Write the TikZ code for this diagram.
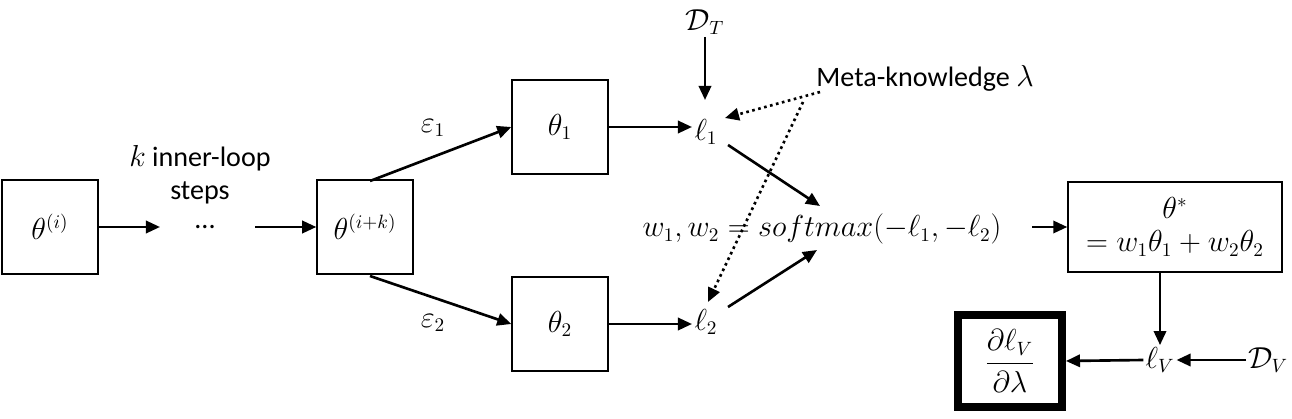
\documentclass[tikz,border=0pt]{standalone}
\usepackage{amsmath}
\usepackage{fontspec}
\setmainfont{Carlito}
\usetikzlibrary{arrows.meta}
\begin{document}
\begin{tikzpicture}[x=0.02cm,y=-0.02cm,
  box/.style={draw,line width=0.8pt,minimum width=96*0.02cm,minimum height=94*0.02cm,inner sep=0pt},
  arr/.style={line width=1.5pt,-{Triangle[length=8pt,width=7pt]}},
  dot/.style={line width=1.5pt,dotted,-{Triangle[length=8pt,width=7pt]}},
  lab/.style={font=\fontsize{16}{19}\selectfont,inner sep=1pt}]
\useasboundingbox (0,0) rectangle (1292,419);
\node[box,lab] (a) at (50,227) {$\theta^{(i)}$};
\node[lab,align=center] (k) at (200,175) {$k$ inner-loop\\steps};
\node[lab] (dots) at (205,227) {...};
\node[box,lab] (b) at (365,227) {$\theta^{(i+k)}$};
\node[box,lab] (t1) at (560,127) {$\theta_1$};
\node[box,lab] (t2) at (560,324) {$\theta_2$};
\node[lab] (e1) at (433,128) {$\varepsilon_1$};
\node[lab] (e2) at (433,323) {$\varepsilon_2$};
\node[lab] (l1) at (706,132) {$\ell_1$};
\node[lab] (l2) at (706,322) {$\ell_2$};
\node[lab] (dt) at (705,22) {$\mathcal{D}_T$};
\node[lab] (mk) at (925,78) {Meta-knowledge $\lambda$};
\node[lab] (f) at (822,229) {$w_1,w_2 = softmax(-\ell_1,-\ell_2)$};
\node[draw,line width=0.8pt,lab,minimum width=214*0.02cm,minimum height=90*0.02cm,align=center] (ts) at (1175,227) {$\theta^*$\\$=w_1\theta_1+w_2\theta_2$};
\node[lab] (lv) at (1160,360) {$\ell_V$};
\node[lab] (dv) at (1268,360) {$\mathcal{D}_V$};
\node[draw,line width=4.5pt,lab,minimum width=104*0.02cm,minimum height=92*0.02cm] (g) at (1010,361) {$\dfrac{\partial\ell_V}{\partial\lambda}$};
\coordinate (a1) at (97,227); \coordinate (a2) at (160,227);
\draw[arr] (a1) -- (a2);
\coordinate (b1) at (255,227);
\draw[arr] (b1) -- (b.west);
\coordinate (b2) at (370,181); \coordinate (b3) at (370,276);
\draw[arr] (b2) -- (t1.west);
\draw[arr] (b3) -- (t2.west);
\coordinate (l1w) at (692,127); \coordinate (l2w) at (692,324);
\draw[arr] (t1.east) -- (l1w);
\draw[arr] (t2.east) -- (l2w);
\coordinate (dt1) at (705,100);
\draw[arr] (dt) -- (dt1);
\coordinate (m1) at (820,92); \coordinate (m2) at (803,102);
\coordinate (m3) at (725,118); \coordinate (m4) at (708,302);
\draw[dot] (m1) -- (m3);
\draw[dot] (m2) -- (m4);
\coordinate (f1) at (820,206); \coordinate (f2) at (817,250);
\coordinate (l1s) at (728,145); \coordinate (l2s) at (728,307);
\draw[arr] (l1s) -- (f1);
\draw[arr] (l2s) -- (f2);
\coordinate (fe) at (1032,227);
\draw[arr] (fe) -- (ts.west);
\draw[arr] (ts.south -| lv) -- (lv.north);
\draw[arr] (dv.west) -- (lv.east);
\draw[arr] (lv.west) -- (g.east);
\end{tikzpicture}
\end{document}
